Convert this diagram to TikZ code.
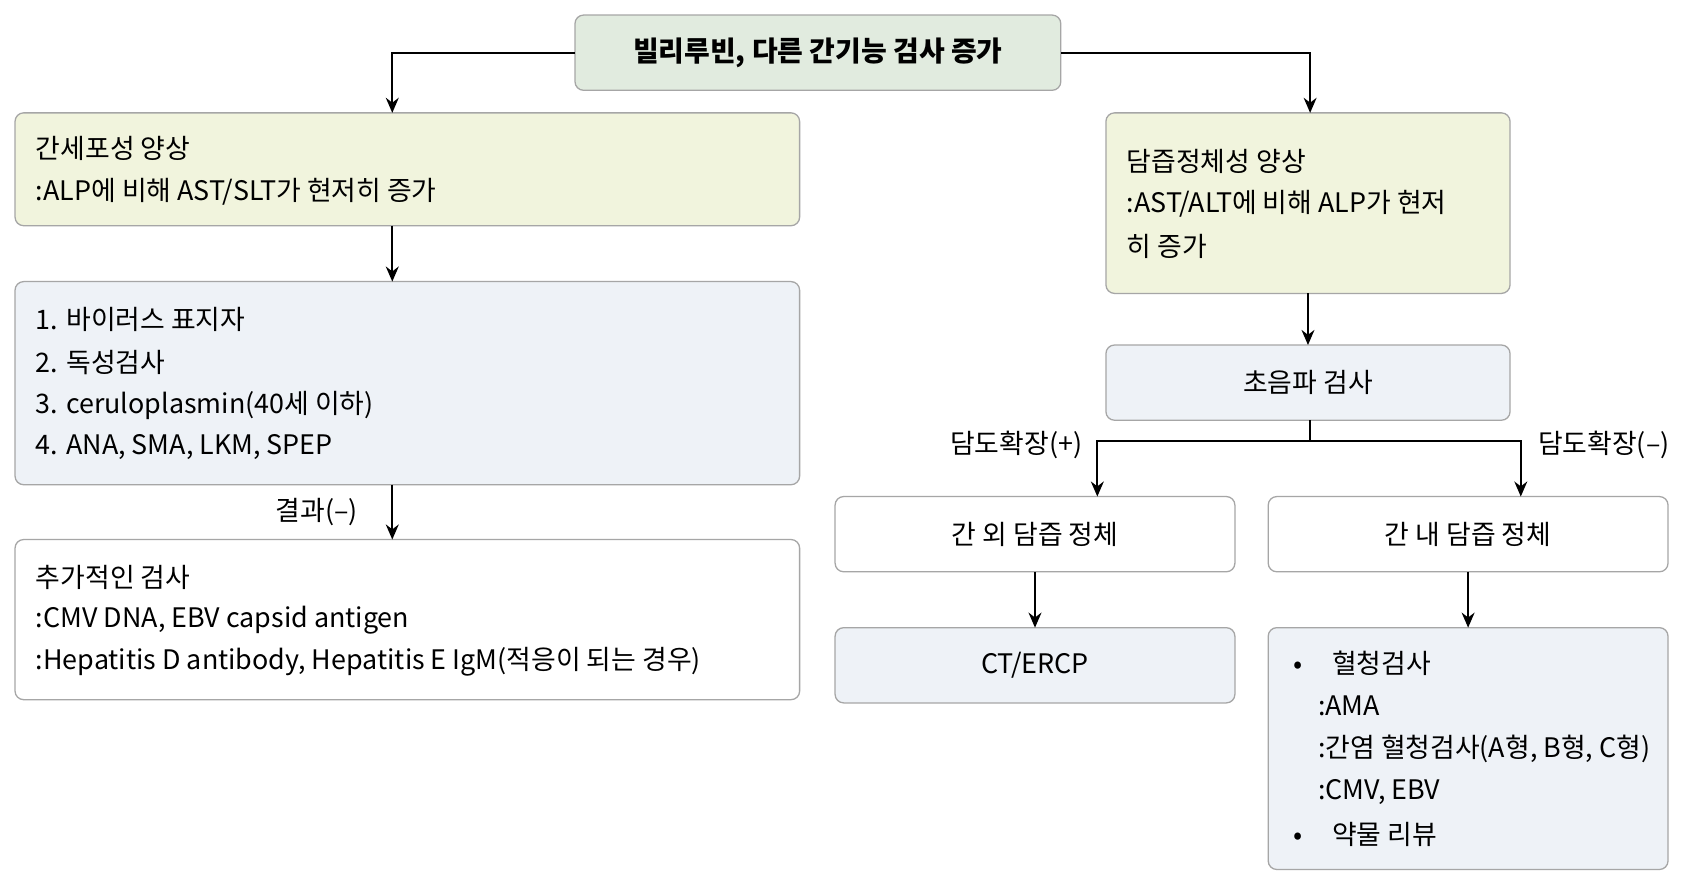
\documentclass[tikz,border=0pt]{standalone}
\usepackage{fontspec}
\setmainfont{Noto Sans CJK KR}
\usetikzlibrary{arrows.meta}
\definecolor{topg}{HTML}{E1EBDF}
\definecolor{yel}{HTML}{F1F4DD}
\definecolor{blu}{HTML}{EEF2F7}
\definecolor{bord}{HTML}{A6A6A6}
\begin{document}
\begin{tikzpicture}[x=0.5pt,y=-0.5pt,
  box/.style={draw=bord,line width=0.6pt,rounded corners=4pt},
  t/.style={anchor=west,inner sep=0pt,font=\fontsize{12.5}{15}\selectfont},
  arr/.style={-{Stealth[length=7pt,width=6pt]},line width=1pt}]
\useasboundingbox (0,0) rectangle (1565,826);
\fill[white] (0,0) rectangle (1565,826);
\draw[box,fill=topg] (535,14) rectangle (987,84);
\node[font=\fontsize{13}{15}\selectfont\bfseries] (top) at (761,49) {빌리루빈, 다른 간기능 검사 증가};
\coordinate (topL) at (535,49); \coordinate (topR) at (987,49);

\draw[box,fill=yel] (14,105) rectangle (744,210);
\coordinate (l1t) at (365,105); \coordinate (l1b) at (365,210);
\node[t] (l1a) at (33,138) {간세포성 양상};
\node[t] (l1b2) at (33,178) {:ALP에 비해 AST/SLT가 현저히 증가};

\draw[box,fill=blu] (14,262) rectangle (744,451);
\coordinate (l2t) at (365,262); \coordinate (l2b) at (365,451);
\node[t] (a1) at (33,297) {1. 바이러스 표지자};
\node[t] (a2) at (33,337) {2. 독성검사};
\node[t] (a3) at (33,377) {3. ceruloplasmin(40세 이하)};
\node[t] (a4) at (33,416) {4. ANA, SMA, LKM, SPEP};

\draw[box,fill=white] (14,502) rectangle (744,651);
\coordinate (l3t) at (365,502);
\node[t] (b1) at (33,537) {추가적인 검사};
\node[t] (b2) at (33,577) {:CMV DNA, EBV capsid antigen};
\node[t] (b3) at (33,616) {:Hepatitis D antibody, Hepatitis E IgM(적응이 되는 경우)};

\draw[box,fill=yel] (1029,105) rectangle (1405,273);
\coordinate (r1t) at (1219,105); \coordinate (r1b) at (1217,273);
\node[t] (c1) at (1048,150) {담즙정체성 양상};
\node[t] (c2) at (1048,190) {:AST/ALT에 비해 ALP가 현저};
\node[t] (c3) at (1048,229) {히 증가};

\draw[box,fill=blu] (1029,321) rectangle (1405,391);
\node[font=\fontsize{12.5}{15}\selectfont] (us) at (1217,356) {초음파 검사};
\coordinate (ust) at (1217,321); \coordinate (usb) at (1219,391);

\draw[box,fill=white] (777,462) rectangle (1149,532);
\node[font=\fontsize{12.5}{15}\selectfont] (ex) at (963,497) {간 외 담즙 정체};
\draw[box,fill=white] (1180,462) rectangle (1552,532);
\node[font=\fontsize{12.5}{15}\selectfont] (in) at (1366,497) {간 내 담즙 정체};
\coordinate (ext) at (1021,462); \coordinate (int) at (1415,462);
\coordinate (exb) at (963,532); \coordinate (inb) at (1366,532);

\draw[box,fill=blu] (777,584) rectangle (1149,654);
\node[font=\fontsize{12.5}{15}\selectfont] (ct) at (963,619) {CT/ERCP};
\coordinate (ctt) at (963,584);
\draw[box,fill=blu] (1180,584) rectangle (1552,809);
\coordinate (set) at (1366,584);
\node[t] (s1) at (1203,617) {•\hspace{1.1em}혈청검사};
\node[t] (s2) at (1226,657) {:AMA};
\node[t] (s3) at (1226,697) {:간염 혈청검사(A형, B형, C형)};
\node[t] (s4) at (1226,737) {:CMV, EBV};
\node[t] (s5) at (1203,776) {•\hspace{1.1em}약물 리뷰};

\draw[arr] (topL) -| (l1t);
\draw[arr] (topR) -| (r1t);
\draw[arr] (l1b) -- (l2t);
\draw[arr] (l2b) -- (l3t);
\node[font=\fontsize{12.5}{15}\selectfont,anchor=east] (res) at (340,476) {결과(–)};
\draw[arr] (r1b) -- (ust);
\draw[line width=1pt] (usb) -- (1219,410);
\draw[arr] (1219,410) -| (ext);
\draw[arr] (1219,410) -| (int);
\node[font=\fontsize{12.5}{15}\selectfont,anchor=east] (dp) at (1014,414) {담도확장(+)};
\node[font=\fontsize{12.5}{15}\selectfont,anchor=west] (dm) at (1424,414) {담도확장(–)};
\draw[arr] (exb) -- (ctt);
\draw[arr] (inb) -- (set);
\end{tikzpicture}
\end{document}
